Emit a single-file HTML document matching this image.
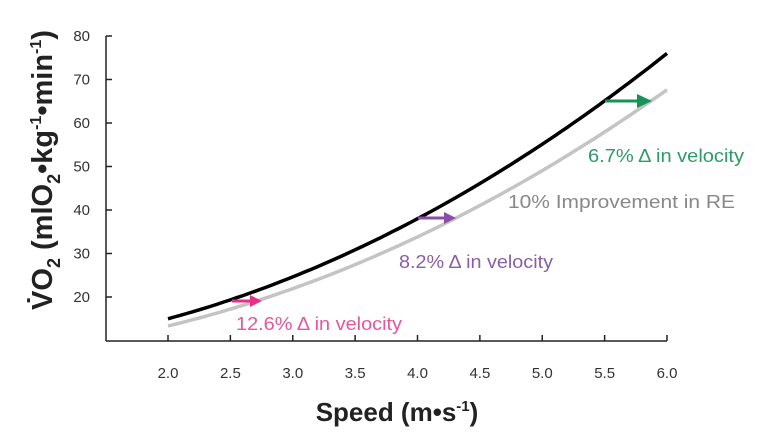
<!DOCTYPE html>
<html><head><style>
html,body{margin:0;padding:0;background:#fff;}
svg{display:block;font-family:"Liberation Sans","DejaVu Sans",sans-serif;}
</style></head><body>
<svg id="s" width="768" height="446" viewBox="0 0 768 446">
<g stroke="#222" stroke-width="1.5" fill="none">
<line x1="106" y1="36" x2="106" y2="341"/>
<line x1="106" y1="341" x2="667" y2="341"/>
</g>
<g id="ticks" stroke="#222" stroke-width="1.5"></g>
<g id="labels" fill="#333" font-size="15"></g>
<path id="gray" fill="none" stroke="#c4c4c4" stroke-width="3.5"/>
<path id="black" fill="none" stroke="#000" stroke-width="3.5"/>
<g stroke-width="3" fill="none">
<line x1="232" y1="301" x2="254" y2="301" stroke="#e8308a"/>
<polygon points="262,301 250,295 250,307" fill="#e8308a" stroke="none"/>
<line x1="418" y1="218" x2="447" y2="218" stroke="#8a4fa5"/>
<polygon points="456,218 444,212 444,224" fill="#8a4fa5" stroke="none"/>
<line x1="605" y1="101" x2="640" y2="101" stroke="#17935a"/>
<polygon points="652,101 637,94 637,108" fill="#17935a" stroke="none"/>
</g>
<g font-size="18">
<text x="236" y="330" fill="#e8559a" textLength="166" lengthAdjust="spacingAndGlyphs">12.6% Δ in velocity</text>
<text x="399" y="268" fill="#8a5fa5" textLength="154" lengthAdjust="spacingAndGlyphs">8.2% Δ in velocity</text>
<text x="508" y="208" fill="#888" textLength="227" lengthAdjust="spacingAndGlyphs">10% Improvement in RE</text>
<text x="588" y="162" fill="#2e9a66" textLength="156" lengthAdjust="spacingAndGlyphs">6.7% Δ in velocity</text>
</g>
<text x="397" y="421" text-anchor="middle" font-size="26" font-weight="bold" fill="#222">Speed (m•s<tspan font-size="15" dy="-10">-1</tspan><tspan dy="10">)</tspan></text>
<text transform="translate(52,170) rotate(-90)" text-anchor="middle" font-size="29" font-weight="bold" fill="#222">V̇O<tspan font-size="18" dy="8">2</tspan><tspan dy="-8"> (mlO</tspan><tspan font-size="18" dy="8">2</tspan><tspan dy="-8">•kg</tspan><tspan font-size="16" dy="-11">-1</tspan><tspan dy="11">•min</tspan><tspan font-size="16" dy="-11">-1</tspan><tspan dy="11">)</tspan></text>
</svg>
<script>
const X=v=>168+(v-2)*124.75, Y=v=>297-(v-20)*4.35;
const f=x=>1.875*x*x+0.25*x+7;
let b="",g="";
for(let i=0;i<=80;i++){const x=2+4*i/80;b+=(i?"L":"M")+X(x).toFixed(1)+","+Y(f(x)).toFixed(1);g+=(i?"L":"M")+X(x).toFixed(1)+","+Y(0.89*f(x)).toFixed(1);}
document.getElementById("black").setAttribute("d",b);
document.getElementById("gray").setAttribute("d",g);
const t=document.getElementById("ticks"),l=document.getElementById("labels");
let th="",lh="";
for(let v=20;v<=80;v+=10){const y=Y(v);th+=`<line x1="106" y1="${y}" x2="112" y2="${y}"/>`;lh+=`<text x="90" y="${y+5}" text-anchor="end">${v}</text>`;}
for(let v=2;v<=6.001;v+=0.5){const x=X(v);th+=`<line x1="${x}" y1="341" x2="${x}" y2="335"/>`;lh+=`<text x="${x}" y="378" text-anchor="middle">${v.toFixed(1)}</text>`;}
t.innerHTML=th;l.innerHTML=lh;
</script>
</body></html>
